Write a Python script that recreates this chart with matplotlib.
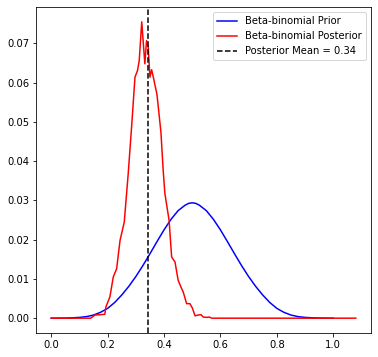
import numpy as np
import matplotlib
matplotlib.use('Agg')
import matplotlib.pyplot as plt

# prior (beta-binomial)
prior_x = [0.000, 0.025, 0.050, 0.075, 0.100, 0.125, 0.150, 0.175, 0.200, 0.225,
           0.250, 0.275, 0.300, 0.325, 0.350, 0.375, 0.400, 0.425, 0.450, 0.475,
           0.4875, 0.500, 0.5125, 0.525, 0.550, 0.575, 0.600, 0.625, 0.650, 0.675,
           0.700, 0.725, 0.750, 0.775, 0.800, 0.825, 0.850, 0.875, 0.900, 0.925,
           0.950, 0.975, 1.000]
prior_y = [0.0, 0.0, 0.00003, 0.0001, 0.0002, 0.0004, 0.0008, 0.0015, 0.0025, 0.0040,
           0.0059, 0.0081, 0.0106, 0.0134, 0.0164, 0.0195, 0.0225, 0.0252, 0.0274, 0.0288,
           0.02925, 0.0294, 0.02925, 0.0288, 0.0274, 0.0252, 0.0225, 0.0195, 0.0164, 0.0134,
           0.0106, 0.0081, 0.0059, 0.0040, 0.0025, 0.0015, 0.0008, 0.0004, 0.0002, 0.0001,
           0.00003, 0.0, 0.0]

# posterior
post_x = [0.0, 0.14, 0.155, 0.175, 0.190, 0.194, 0.208, 0.220, 0.232, 0.244,
          0.259, 0.273, 0.285, 0.297, 0.306, 0.312, 0.321, 0.332, 0.338, 0.344,
          0.350, 0.356, 0.362, 0.375, 0.389, 0.397, 0.403, 0.418, 0.427, 0.439,
          0.450, 0.462, 0.468, 0.480, 0.492, 0.501, 0.510, 0.521, 0.531, 0.539,
          0.551, 0.560, 0.569, 1.08]
post_y = [0.0, 0.0, 0.0008, 0.0009, 0.0010, 0.0029, 0.0054, 0.0105, 0.0126, 0.0198,
          0.0245, 0.0368, 0.0487, 0.0614, 0.0631, 0.0656, 0.0755, 0.0648, 0.0707, 0.0690,
          0.0614, 0.0633, 0.0614, 0.0570, 0.0474, 0.0377, 0.0318, 0.0249, 0.0156, 0.0143,
          0.0097, 0.0076, 0.0067, 0.0037, 0.0037, 0.0025, 0.0006, 0.0008, 0.0009, 0.0003,
          0.0002, 0.0003, 0.0, 0.0]

post_mean = 0.342

fig = plt.figure(figsize=(378 / 72, 357 / 72), dpi=72)
ax = fig.add_axes([36 / 378, 24 / 357, 335 / 378, 326 / 357])

ax.plot(prior_x, prior_y, 'b', label='Beta-binomial Prior')
ax.plot(post_x, post_y, 'r', label='Beta-binomial Posterior')
ax.axvline(post_mean, color='k', linestyle='--',
           label='Posterior Mean = {:.2f}'.format(post_mean))
ax.legend(loc='upper right')

fig.savefig('out.png', dpi=72)
